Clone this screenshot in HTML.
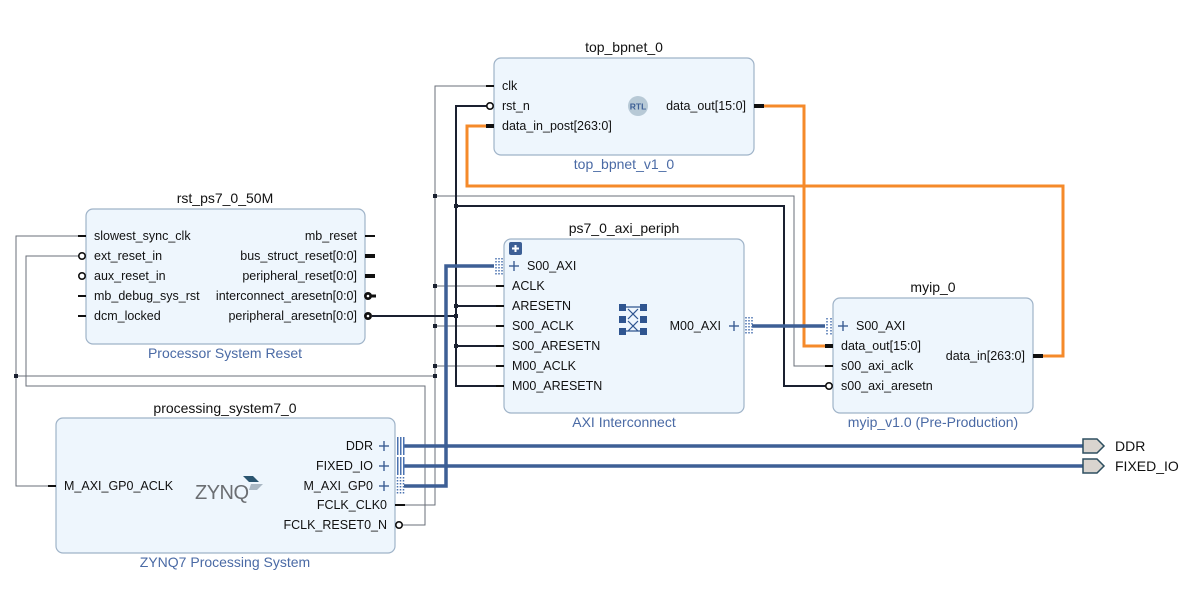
<!DOCTYPE html>
<html><head><meta charset="utf-8"><style>
html,body{margin:0;padding:0;background:#fff;}
svg{display:block;}
text{font-family:"Liberation Sans",sans-serif;font-size:12.5px;fill:#111;}
.t{font-size:14px;text-anchor:middle;}
.s{font-size:14px;text-anchor:middle;fill:#4a6aa5;}
.r{text-anchor:end;}
</style></head><body>
<svg width="1192" height="589" viewBox="0 0 1192 589" xmlns="http://www.w3.org/2000/svg">
<g fill="#eef6fd" stroke="#9fb3c8" stroke-width="1.2">
<rect x="494" y="58" width="260" height="97" rx="7"/>
<rect x="86" y="209" width="279" height="135" rx="7"/>
<rect x="504" y="239" width="240" height="174" rx="7"/>
<rect x="833" y="298" width="200" height="115" rx="7"/>
<rect x="56" y="418" width="339" height="135" rx="7"/>
</g>
<text class="t" x="624" y="52">top_bpnet_0</text>
<text class="s" x="624" y="169">top_bpnet_v1_0</text>
<text class="t" x="225" y="203">rst_ps7_0_50M</text>
<text class="s" x="225" y="358">Processor System Reset</text>
<text class="t" x="624" y="233">ps7_0_axi_periph</text>
<text class="s" x="624" y="427">AXI Interconnect</text>
<text class="t" x="933" y="292">myip_0</text>
<text class="s" x="933" y="427">myip_v1.0 (Pre-Production)</text>
<text class="t" x="225" y="413">processing_system7_0</text>
<text class="s" x="225" y="567">ZYNQ7 Processing System</text>

<g fill="none" stroke="#6a6f78" stroke-width="1">
<polyline points="86,236 16,236 16,486 56,486"/>
<polyline points="16,376 435,376"/>
<polyline points="86,256 26,256 26,386 425,386 425,525 400,525"/>
<polyline points="395,505 435,505 435,86 494,86"/>
<polyline points="435,196 794,196 794,366 833,366"/>
<line x1="435" y1="286" x2="504" y2="286"/>
<line x1="435" y1="326" x2="504" y2="326"/>
<line x1="435" y1="366" x2="504" y2="366"/>
</g>
<g fill="none" stroke="#1a2030" stroke-width="2">
<polyline points="490,106 456,106 456,386 504,386"/>
<polyline points="456,206 784,206 784,386 829,386"/>
<line x1="372" y1="316" x2="456" y2="316"/>
<line x1="456" y1="306" x2="504" y2="306"/>
<line x1="456" y1="346" x2="504" y2="346"/>
</g>
<g fill="#1a2030">
<rect x="14" y="374" width="4" height="4"/>
<rect x="433" y="374" width="4" height="4"/>
<rect x="433" y="194" width="4" height="4"/>
<rect x="433" y="284" width="4" height="4"/>
<rect x="433" y="324" width="4" height="4"/>
<rect x="433" y="364" width="4" height="4"/>
<rect x="454" y="204" width="4" height="4"/>
<rect x="454" y="304" width="4" height="4"/>
<rect x="454" y="314" width="4" height="4"/>
<rect x="454" y="344" width="4" height="4"/>
</g>
<g fill="none" stroke="#f58a2a" stroke-width="3">
<polyline points="760,106 804,106 804,346 826,346"/>
<polyline points="488,126 467,126 467,186 1063,186 1063,356 1043,356"/>
</g>
<g fill="none" stroke="#3d5f95" stroke-width="3.5">
<polyline points="404,486 446,486 446,266 494,266"/>
<line x1="752" y1="326" x2="825" y2="326"/>
<line x1="404" y1="446" x2="1083" y2="446"/>
<line x1="404" y1="466" x2="1083" y2="466"/>
</g>
<g fill="#d9d4cf" stroke="#2e4f60" stroke-width="1.5">
<polygon points="1083,439 1097,439 1104,446 1097,453 1083,453"/>
<polygon points="1083,459 1097,459 1104,466 1097,473 1083,473"/>
</g>
<text x="1115" y="451" style="font-size:14px">DDR</text>
<text x="1115" y="471" style="font-size:14px">FIXED_IO</text>

<g stroke="#111" stroke-width="2">
<line x1="486" y1="86" x2="494" y2="86"/>
<line x1="754" y1="106" x2="764" y2="106" stroke-width="4"/>
<line x1="486" y1="126" x2="494" y2="126" stroke-width="4"/>
<line x1="78" y1="236" x2="86" y2="236"/>
<line x1="78" y1="296" x2="86" y2="296"/>
<line x1="78" y1="316" x2="86" y2="316"/>
<line x1="365" y1="236" x2="375" y2="236"/>
<line x1="365" y1="256" x2="375" y2="256" stroke-width="4"/>
<line x1="365" y1="276" x2="375" y2="276" stroke-width="4"/>
<line x1="496" y1="286" x2="504" y2="286"/>
<line x1="496" y1="306" x2="504" y2="306"/>
<line x1="496" y1="326" x2="504" y2="326"/>
<line x1="496" y1="346" x2="504" y2="346"/>
<line x1="496" y1="366" x2="504" y2="366"/>
<line x1="496" y1="386" x2="504" y2="386"/>
<line x1="825" y1="346" x2="833" y2="346" stroke-width="4"/>
<line x1="825" y1="366" x2="833" y2="366"/>
<line x1="1033" y1="356" x2="1043" y2="356" stroke-width="4"/>
<line x1="48" y1="486" x2="56" y2="486"/>
<line x1="395" y1="505" x2="405" y2="505"/>
</g>
<g fill="#fff" stroke="#111" stroke-width="1.6">
<circle cx="490" cy="106" r="3.2"/>
<circle cx="82" cy="256" r="3.2"/>
<circle cx="82" cy="276" r="3.2"/>
<circle cx="829" cy="386" r="3.2"/>
<circle cx="399" cy="525" r="3.2"/>
</g>
<g fill="#111">
<circle cx="368" cy="296" r="4"/><line x1="368" y1="296" x2="376" y2="296" stroke="#111" stroke-width="3"/>
<circle cx="368" cy="316" r="4"/>
</g>
<circle cx="368" cy="296" r="1.3" fill="#fff"/><circle cx="368" cy="316" r="1.3" fill="#fff"/>

<g fill="#4a72b0">
<rect x="397" y="437" width="1.5" height="18"/><rect x="400" y="437" width="1.5" height="18"/><rect x="403" y="437" width="1.5" height="18"/>
<rect x="397" y="457" width="1.5" height="18"/><rect x="400" y="457" width="1.5" height="18"/><rect x="403" y="457" width="1.5" height="18"/>
</g>
<g stroke="#4a72b0" stroke-width="1.5" stroke-dasharray="1.5,1.5" fill="none">
<line x1="397.5" y1="477" x2="397.5" y2="495"/><line x1="400.5" y1="477" x2="400.5" y2="495"/><line x1="403.5" y1="477" x2="403.5" y2="495"/>
<line x1="496" y1="258" x2="496" y2="275"/><line x1="499" y1="258" x2="499" y2="275"/><line x1="502" y1="258" x2="502" y2="275"/>
<line x1="746" y1="317" x2="746" y2="335"/><line x1="749" y1="317" x2="749" y2="335"/><line x1="752" y1="317" x2="752" y2="335"/>
<line x1="827" y1="318" x2="827" y2="335"/><line x1="831" y1="318" x2="831" y2="335"/>
</g>
<g stroke="#3d5f95" stroke-width="1.4">
<line x1="379" y1="446" x2="389" y2="446"/><line x1="384" y1="441" x2="384" y2="451"/>
<line x1="379" y1="466" x2="389" y2="466"/><line x1="384" y1="461" x2="384" y2="471"/>
<line x1="379" y1="486" x2="389" y2="486"/><line x1="384" y1="481" x2="384" y2="491"/>
<line x1="509" y1="266" x2="519" y2="266"/><line x1="514" y1="261" x2="514" y2="271"/>
<line x1="729" y1="326" x2="739" y2="326"/><line x1="734" y1="321" x2="734" y2="331"/>
<line x1="838" y1="326" x2="848" y2="326"/><line x1="843" y1="321" x2="843" y2="331"/>
</g>
<rect x="509" y="242" width="13" height="13" rx="2" fill="#3d5f95"/>
<path d="M515.5 245v7M512 248.5h7" stroke="#fff" stroke-width="2"/>

<g fill="#2f5590">
<rect x="619" y="304" width="7" height="7"/><rect x="640" y="304" width="7" height="7"/>
<rect x="619" y="316" width="7" height="7"/><rect x="640" y="316" width="7" height="7"/>
<rect x="619" y="328" width="7" height="7"/><rect x="640" y="328" width="7" height="7"/>
</g>
<g stroke="#2f5590" stroke-width="1.2" fill="none">
<path d="M626 307h14M626 331h14M628 309l10 10M638 309l-10 10M628 321l10 10M638 321l-10 10"/>
</g>
<circle cx="638" cy="106" r="10" fill="#b7c9d6"/>
<text x="638" y="109.5" style="font-size:8.5px;font-weight:bold;fill:#3d5f95;text-anchor:middle">RTL</text>
<text x="195" y="499" style="font-size:20px;fill:#6b6e72;letter-spacing:-0.5px">ZYNQ</text>
<polygon points="243,476 253,476 259,482 249,482" fill="#2a5570"/>
<polygon points="251,484 263,484 257,490 249,490" fill="#aab8c4"/>

<text x="502" y="90">clk</text>
<text x="502" y="110">rst_n</text>
<text x="502" y="130">data_in_post[263:0]</text>
<text class="r" x="746" y="110">data_out[15:0]</text>

<text x="94" y="240">slowest_sync_clk</text>
<text x="94" y="260">ext_reset_in</text>
<text x="94" y="280">aux_reset_in</text>
<text x="94" y="300">mb_debug_sys_rst</text>
<text x="94" y="320">dcm_locked</text>
<text class="r" x="357" y="240">mb_reset</text>
<text class="r" x="357" y="260">bus_struct_reset[0:0]</text>
<text class="r" x="357" y="280">peripheral_reset[0:0]</text>
<text class="r" x="357" y="300">interconnect_aresetn[0:0]</text>
<text class="r" x="357" y="320">peripheral_aresetn[0:0]</text>

<text x="527" y="270">S00_AXI</text>
<text x="512" y="290">ACLK</text>
<text x="512" y="310">ARESETN</text>
<text x="512" y="330">S00_ACLK</text>
<text x="512" y="350">S00_ARESETN</text>
<text x="512" y="370">M00_ACLK</text>
<text x="512" y="390">M00_ARESETN</text>
<text class="r" x="721" y="330">M00_AXI</text>

<text x="856" y="330">S00_AXI</text>
<text x="841" y="350">data_out[15:0]</text>
<text x="841" y="370">s00_axi_aclk</text>
<text x="841" y="390">s00_axi_aresetn</text>
<text class="r" x="1025" y="360">data_in[263:0]</text>

<text x="64" y="490">M_AXI_GP0_ACLK</text>
<text class="r" x="373" y="450">DDR</text>
<text class="r" x="373" y="470">FIXED_IO</text>
<text class="r" x="373" y="490">M_AXI_GP0</text>
<text class="r" x="387" y="509">FCLK_CLK0</text>
<text class="r" x="387" y="529">FCLK_RESET0_N</text>
</svg>
</body></html>
